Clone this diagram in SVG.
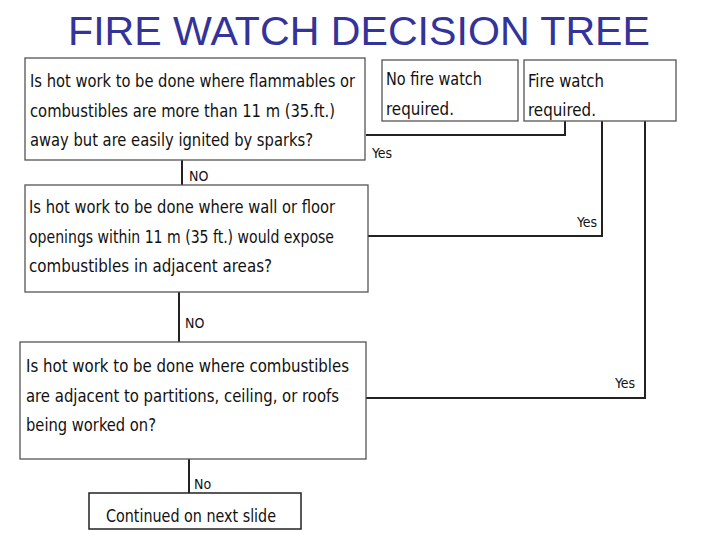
<svg xmlns="http://www.w3.org/2000/svg" width="720" height="540" viewBox="0 0 720 540">
<style>
.b{fill:#fff;stroke:#555;stroke-width:1.3}
.t{font-family:"DejaVu Sans Condensed","Liberation Sans Narrow","Liberation Sans",sans-serif;font-size:17px;fill:#111}
.s{font-family:"DejaVu Sans Condensed","Liberation Sans",sans-serif;font-size:14px;fill:#111}
.c{fill:none;stroke:#222;stroke-width:2}
</style>
<rect width="720" height="540" fill="#fff"/>
<text x="359" y="45" text-anchor="middle" font-family="Liberation Sans,Arial,sans-serif" font-size="41" fill="#333399" textLength="582" lengthAdjust="spacingAndGlyphs">FIRE WATCH DECISION TREE</text>
<g id="connectors">
<path class="c" d="M366 135H565V121"/>
<path class="c" d="M368 236H602V121"/>
<path class="c" d="M366 398H645V121"/>
<path class="c" d="M182 160V185"/>
<path class="c" d="M179 292V342"/>
<path class="c" d="M189 459V493"/>
<text class="s" x="372" y="158">Yes</text>
<text class="s" x="577" y="227">Yes</text>
<text class="s" x="615" y="388">Yes</text>
<text class="s" x="189" y="181">NO</text>
<text class="s" x="185" y="328">NO</text>
<text class="s" x="194" y="489">No</text>
</g>
<g id="q1"><rect class="b" x="25" y="58" width="340" height="102"/>
<text class="t" x="30" y="87" textLength="325" lengthAdjust="spacingAndGlyphs">Is hot work to be done where flammables or</text>
<text class="t" x="30" y="117" textLength="305" lengthAdjust="spacingAndGlyphs">combustibles are more than 11 m (35.ft.)</text>
<text class="t" x="30" y="146" textLength="283" lengthAdjust="spacingAndGlyphs">away but are easily ignited by sparks?</text></g>
<g id="nofire"><rect class="b" x="382" y="60" width="136" height="61"/>
<text class="t" x="386" y="85" textLength="96" lengthAdjust="spacingAndGlyphs">No fire watch</text>
<text class="t" x="386" y="115" textLength="68" lengthAdjust="spacingAndGlyphs">required.</text></g>
<g id="fire"><rect class="b" x="524" y="60" width="152" height="61"/>
<text class="t" x="528" y="87" textLength="76" lengthAdjust="spacingAndGlyphs">Fire watch</text>
<text class="t" x="528" y="116" textLength="68" lengthAdjust="spacingAndGlyphs">required.</text></g>
<g id="q2"><rect class="b" x="25" y="185" width="343" height="107"/>
<text class="t" x="29" y="213" textLength="306" lengthAdjust="spacingAndGlyphs">Is hot work to be done where wall or floor</text>
<text class="t" x="29" y="243" textLength="305" lengthAdjust="spacingAndGlyphs">openings within 11 m (35 ft.) would expose</text>
<text class="t" x="29" y="272" textLength="243" lengthAdjust="spacingAndGlyphs">combustibles in adjacent areas?</text></g>
<g id="q3"><rect class="b" x="20" y="342" width="346" height="117"/>
<text class="t" x="26" y="372" textLength="323" lengthAdjust="spacingAndGlyphs">Is hot work to be done where combustibles</text>
<text class="t" x="26" y="402" textLength="313" lengthAdjust="spacingAndGlyphs">are adjacent to partitions, ceiling, or roofs</text>
<text class="t" x="26" y="431" textLength="130" lengthAdjust="spacingAndGlyphs">being worked on?</text></g>
<g id="cont"><rect fill="#fff" stroke="#222" stroke-width="1.5" x="89" y="493" width="212" height="36"/>
<text class="t" x="106" y="522" textLength="170" lengthAdjust="spacingAndGlyphs">Continued on next slide</text></g>
</svg>
